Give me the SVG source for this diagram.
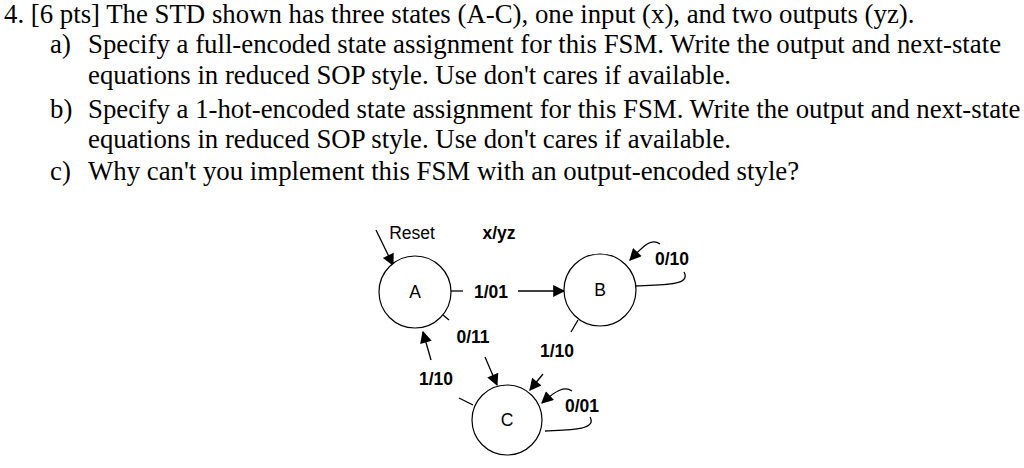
<svg xmlns="http://www.w3.org/2000/svg" width="1024" height="468" viewBox="0 0 1024 468">
<defs>
<marker id="ah" viewBox="0 0 10 10" refX="9" refY="5" markerWidth="15" markerHeight="12" markerUnits="userSpaceOnUse" orient="auto"><path d="M0,0 L10,5 L0,10 z" fill="#000"/></marker>
<style>
.q{font-family:"Liberation Serif",serif;font-size:26.8px;fill:#000}
.l{font-family:"Liberation Sans",Arial,sans-serif;font-size:17.5px;font-weight:bold;fill:#000}
.n{font-family:"Liberation Sans",Arial,sans-serif;font-size:17.5px;fill:#000}
circle{fill:#fff;stroke:#000;stroke-width:1.2}
.c path,.c line{fill:none;stroke:#000;stroke-width:1.3}
</style>
</defs>
<rect width="1024" height="468" fill="#fff"/>
<text class="q" x="4" y="23">4.  [6 pts] The STD shown has three states (A-C), one input (x), and two outputs (yz).</text>
<text class="q" x="50" y="53">a)</text>
<text class="q" x="88" y="53">Specify a full-encoded state assignment for this FSM. Write the output and next-state</text>
<text class="q" x="88" y="84">equations in reduced SOP style. Use don't cares if available.</text>
<text class="q" x="50" y="118">b)</text>
<text class="q" x="88" y="118">Specify a 1-hot-encoded state assignment for this FSM. Write the output and next-state</text>
<text class="q" x="88" y="148">equations in reduced SOP style. Use don't cares if available.</text>
<text class="q" x="50" y="180">c)</text>
<text class="q" x="88" y="180">Why can't you implement this FSM with an output-encoded style?</text>
<g class="c" id="connectors">
<line x1="376" y1="230" x2="393" y2="265" marker-end="url(#ah)"/>
<line x1="451" y1="291" x2="463" y2="291"/>
<line x1="518" y1="291" x2="564" y2="291" marker-end="url(#ah)"/>
<path d="M635,286 C660,285 692,286 684,272"/>
<path d="M660,244 C652,238 645,244 630,260" marker-end="url(#ah)"/>
<line x1="449" y1="320" x2="443" y2="315"/>
<line x1="485" y1="357" x2="497" y2="385" marker-end="url(#ah)"/>
<line x1="578" y1="320" x2="571" y2="332"/>
<line x1="543" y1="374" x2="530" y2="390" marker-end="url(#ah)"/>
<line x1="459" y1="398" x2="473" y2="405"/>
<line x1="431" y1="360" x2="423" y2="332" marker-end="url(#ah)"/>
<path d="M545,431 C565,430 598,431 590,417"/>
<path d="M572,391 C565,386 556,390 542,403" marker-end="url(#ah)"/>
</g>
<g id="A"><circle cx="415" cy="292" r="36"/><text class="n" x="415" y="298" text-anchor="middle">A</text></g>
<g id="B"><circle cx="600" cy="290" r="36"/><text class="n" x="600" y="296" text-anchor="middle">B</text></g>
<g id="C"><circle cx="507" cy="420" r="35"/><text class="n" x="507" y="426" text-anchor="middle">C</text></g>
<g id="labels">
<text class="n" x="412" y="239" text-anchor="middle">Reset</text>
<text class="l" x="499" y="239" text-anchor="middle">x/yz</text>
<text class="l" x="491" y="298" text-anchor="middle">1/01</text>
<text class="l" x="672" y="265" text-anchor="middle">0/10</text>
<text class="l" x="473" y="343" text-anchor="middle">0/11</text>
<text class="l" x="557" y="357" text-anchor="middle">1/10</text>
<text class="l" x="436" y="385" text-anchor="middle">1/10</text>
<text class="l" x="582" y="412" text-anchor="middle">0/01</text>
</g>
</svg>
